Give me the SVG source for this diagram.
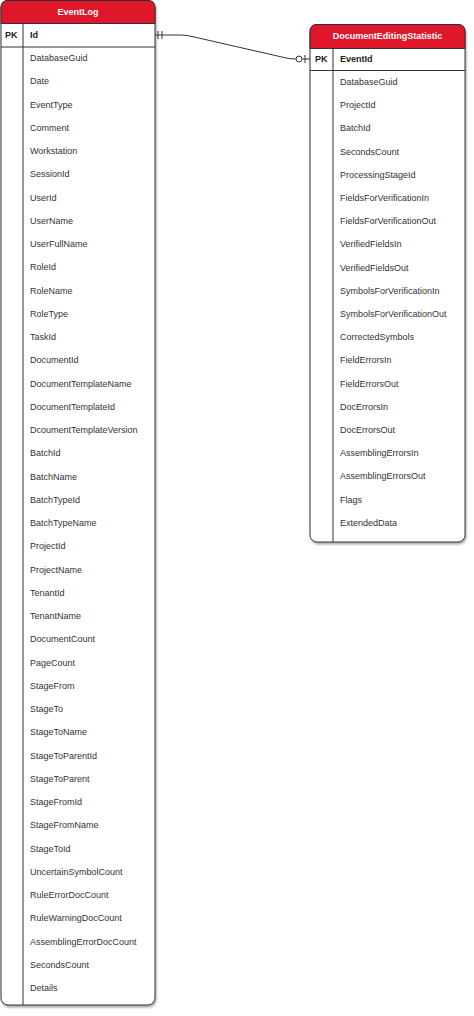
<svg xmlns="http://www.w3.org/2000/svg" width="474" height="1016" viewBox="0 0 474 1016">
<style>
.box{fill:#fff;stroke:#333;stroke-width:1}
.hdr{fill:#e0162b;stroke:#333;stroke-width:1}
.ln{stroke:#333;stroke-width:1;fill:none}
.ttl{font-family:"Liberation Sans",Arial,sans-serif;font-size:9px;font-weight:bold;fill:#fff;text-anchor:middle}
.pk{font-family:"Liberation Sans",Arial,sans-serif;font-size:9px;font-weight:bold;fill:#222}
.fld{font-family:"Liberation Sans",Arial,sans-serif;font-size:9px;fill:#333}
.edge{stroke:#333;stroke-width:1;fill:none}
</style>
<defs>
<filter id="sh" x="-10%" y="-10%" width="120%" height="120%">
<feDropShadow dx="1" dy="2" stdDeviation="1.2" flood-color="#000" flood-opacity="0.35"/>
</filter>
</defs>

<g id="EventLog">
<rect class="box" x="1" y="0.5" width="154" height="1004.5" rx="7" filter="url(#sh)"/>
<path class="hdr" d="M1,23.5 V7.5 Q1,0.5 8,0.5 H148 Q155,0.5 155,7.5 V23.5 Z"/>
<line class="ln" x1="1" y1="47" x2="155" y2="47"/>
<line class="ln" x1="23" y1="23.5" x2="23" y2="1005"/>
<text class="ttl" x="78" y="15">EventLog</text>
<text class="pk" x="5" y="38">PK</text>
<text class="pk" x="30" y="38">Id</text>
<text class="fld" x="30" y="61">DatabaseGuid</text>
<text class="fld" x="30" y="84.25">Date</text>
<text class="fld" x="30" y="107.5">EventType</text>
<text class="fld" x="30" y="130.75">Comment</text>
<text class="fld" x="30" y="154">Workstation</text>
<text class="fld" x="30" y="177.25">SessionId</text>
<text class="fld" x="30" y="200.5">UserId</text>
<text class="fld" x="30" y="223.75">UserName</text>
<text class="fld" x="30" y="247">UserFullName</text>
<text class="fld" x="30" y="270.25">RoleId</text>
<text class="fld" x="30" y="293.5">RoleName</text>
<text class="fld" x="30" y="316.75">RoleType</text>
<text class="fld" x="30" y="340">TaskId</text>
<text class="fld" x="30" y="363.25">DocumentId</text>
<text class="fld" x="30" y="386.5">DocumentTemplateName</text>
<text class="fld" x="30" y="409.75">DocumentTemplateId</text>
<text class="fld" x="30" y="433">DcoumentTemplateVersion</text>
<text class="fld" x="30" y="456.25">BatchId</text>
<text class="fld" x="30" y="479.5">BatchName</text>
<text class="fld" x="30" y="502.75">BatchTypeId</text>
<text class="fld" x="30" y="526">BatchTypeName</text>
<text class="fld" x="30" y="549.25">ProjectId</text>
<text class="fld" x="30" y="572.5">ProjectName</text>
<text class="fld" x="30" y="595.75">TenantId</text>
<text class="fld" x="30" y="619">TenantName</text>
<text class="fld" x="30" y="642.25">DocumentCount</text>
<text class="fld" x="30" y="665.5">PageCount</text>
<text class="fld" x="30" y="688.75">StageFrom</text>
<text class="fld" x="30" y="712">StageTo</text>
<text class="fld" x="30" y="735.25">StageToName</text>
<text class="fld" x="30" y="758.5">StageToParentId</text>
<text class="fld" x="30" y="781.75">StageToParent</text>
<text class="fld" x="30" y="805">StageFromId</text>
<text class="fld" x="30" y="828.25">StageFromName</text>
<text class="fld" x="30" y="851.5">StageToId</text>
<text class="fld" x="30" y="874.75">UncertainSymbolCount</text>
<text class="fld" x="30" y="898">RuleErrorDocCount</text>
<text class="fld" x="30" y="921.25">RuleWarningDocCount</text>
<text class="fld" x="30" y="944.5">AssemblingErrorDocCount</text>
<text class="fld" x="30" y="967.75">SecondsCount</text>
<text class="fld" x="30" y="991">Details</text>
</g>

<g id="DocumentEditingStatistic">
<rect class="box" x="310" y="24.5" width="155" height="517.5" rx="7" filter="url(#sh)"/>
<path class="hdr" d="M310,48.5 V31.5 Q310,24.5 317,24.5 H458 Q465,24.5 465,31.5 V48.5 Z"/>
<line class="ln" x1="310" y1="70.5" x2="465" y2="70.5"/>
<line class="ln" x1="333" y1="48.5" x2="333" y2="542"/>
<text class="ttl" x="387.5" y="39">DocumentEditingStatistic</text>
<text class="pk" x="315" y="62">PK</text>
<text class="pk" x="340" y="62">EventId</text>
<text class="fld" x="340" y="85">DatabaseGuid</text>
<text class="fld" x="340" y="108.2">ProjectId</text>
<text class="fld" x="340" y="131.4">BatchId</text>
<text class="fld" x="340" y="154.6">SecondsCount</text>
<text class="fld" x="340" y="177.8">ProcessingStageId</text>
<text class="fld" x="340" y="201">FieldsForVerificationIn</text>
<text class="fld" x="340" y="224.2">FieldsForVerificationOut</text>
<text class="fld" x="340" y="247.4">VerifiedFieldsIn</text>
<text class="fld" x="340" y="270.6">VerifiedFieldsOut</text>
<text class="fld" x="340" y="293.8">SymbolsForVerificationIn</text>
<text class="fld" x="340" y="317">SymbolsForVerificationOut</text>
<text class="fld" x="340" y="340.2">CorrectedSymbols</text>
<text class="fld" x="340" y="363.4">FieldErrorsIn</text>
<text class="fld" x="340" y="386.6">FieldErrorsOut</text>
<text class="fld" x="340" y="409.8">DocErrorsIn</text>
<text class="fld" x="340" y="433">DocErrorsOut</text>
<text class="fld" x="340" y="456.2">AssemblingErrorsIn</text>
<text class="fld" x="340" y="479.4">AssemblingErrorsOut</text>
<text class="fld" x="340" y="502.6">Flags</text>
<text class="fld" x="340" y="525.8">ExtendedData</text>
</g>

<g id="connectors">
<path class="edge" d="M155,35 L180,35 Q186,35 192,36.5 L284,57.5 Q290,59 296,59 L310,59"/>
<line class="edge" x1="158" y1="31" x2="158" y2="39"/>
<line class="edge" x1="162" y1="31" x2="162" y2="39"/>
<circle class="edge" cx="299" cy="59" r="3" style="fill:#fff"/>
<line class="edge" x1="305" y1="55" x2="305" y2="63"/>
</g>
</svg>
